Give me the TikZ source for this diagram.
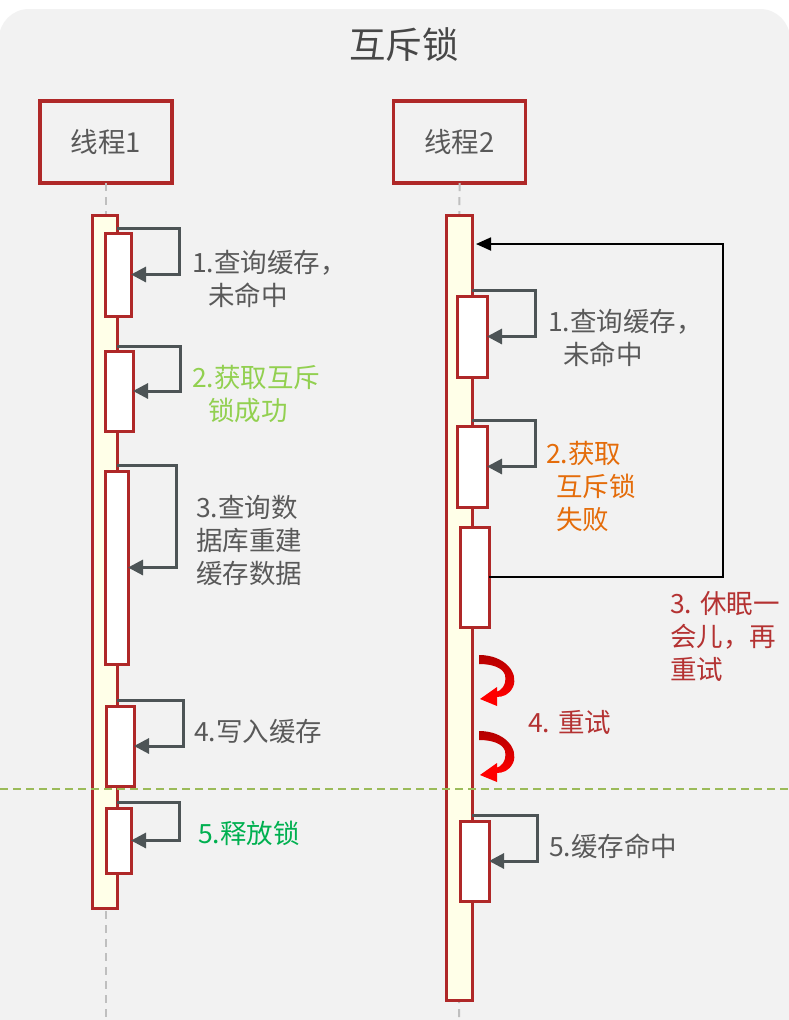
\documentclass[tikz,border=0pt]{standalone}
\usepackage{fontspec}
\setmainfont{Noto Sans CJK SC}
\usetikzlibrary{arrows.meta}
\definecolor{bgc}{RGB}{242,242,242}
\definecolor{boxred}{RGB}{175,40,40}
\definecolor{barfill}{RGB}{255,255,232}
\definecolor{msgc}{RGB}{77,84,86}
\definecolor{txtg}{RGB}{89,89,89}
\definecolor{lgreen}{RGB}{146,208,80}
\definecolor{dgreen}{RGB}{0,176,80}
\definecolor{orng}{RGB}{228,108,10}
\definecolor{dred}{RGB}{180,50,50}
\definecolor{sepg}{RGB}{155,187,89}
\begin{document}
\begin{tikzpicture}[x=1pt,y=-1pt,
  thread/.style={draw=boxred,line width=3.5pt,minimum width=132pt,minimum height=82pt,inner sep=0pt,outer sep=0pt,font=\fontsize{27.5}{30}\selectfont,text=txtg},
  lbar/.style={draw=boxred,fill=barfill,line width=3pt,inner sep=0pt,outer sep=0pt},
  act/.style={draw=boxred,fill=white,line width=3pt,inner sep=0pt,outer sep=0pt},
  life/.style={draw=black!25,line width=2pt,dash pattern=on 8pt off 6pt},
  msg/.style={draw=msgc,line width=3pt,-{Triangle[length=15pt,width=15pt]}},
  loopln/.style={draw=black,line width=1.8pt,-{Triangle[length=15pt,width=13pt]}},
  lbl/.style={anchor=west,align=left,inner sep=0pt,font=\fontsize{26.5}{33}\selectfont},
  sep/.style={draw=sepg,line width=1.5pt,dash pattern=on 8pt off 5pt}
]
\useasboundingbox (0,0) rectangle (789,1020);
\fill[white] (0,0) rectangle (789,1020);
\fill[bgc,rounded corners=30pt] (-1,9) rectangle (790,1050);

\node[font=\fontsize{36.5}{40}\selectfont,text=txtg!80!black] (title) at (404,45) {互斥锁};

\node[thread] (t1) at (106,142) {线程1};
\node[thread] (t2) at (459.5,142) {线程2};
\coordinate (e1) at (106,1020);
\coordinate (e2) at (459,1020);
\draw[life] (t1.south) -- (e1);
\draw[life] (t2.south) -- (e2);

% thread 1
\node[lbar,minimum width=25pt,minimum height=693pt] (bar1) at (104.5,561.5) {};
\node[act,minimum width=26pt,minimum height=83pt] (a1) at (118,274.5) {};
\node[act,minimum width=28pt,minimum height=80pt] (a2) at (119,391) {};
\node[act,minimum width=23pt,minimum height=193pt] (a3) at (116.5,567.5) {};
\node[act,minimum width=28pt,minimum height=80pt] (a4) at (120,746) {};
\node[act,minimum width=25pt,minimum height=65pt] (a5) at (118.5,840.5) {};

\draw[msg] ([yshift=5pt]a1.north -| bar1.east) -- ++(62,0) |- (a1.east);
\draw[msg] ([yshift=5pt]a2.north -| bar1.east) -- ++(63,0) |- (a2.east);
\draw[msg] ([yshift=6pt]a3.north -| bar1.east) -- ++(59,0) |- (a3.east);
\draw[msg] ([yshift=6pt]a4.north -| bar1.east) -- ++(66,0) |- (a4.east);
\draw[msg] ([yshift=6pt]a5.north -| bar1.east) -- ++(62,0) |- (a5.east);

\node[lbl,text=txtg] (l1) at (192,279) {1.查询缓存，\\\hspace*{16pt}未命中};
\node[lbl,text=lgreen] (l2) at (192,394) {2.获取互斥\\\hspace*{16pt}锁成功};
\node[lbl,text=txtg] (l3) at (196,540) {3.查询数\\据库重建\\缓存数据};
\node[lbl,text=txtg] (l4) at (194,731) {4.写入缓存};
\node[lbl,text=dgreen] (l5) at (198,833) {5.释放锁};

% thread 2
\node[lbar,minimum width=26pt,minimum height=785pt] (bar2) at (459,607.5) {};
\node[act,minimum width=30pt,minimum height=81pt] (b1) at (472,336.5) {};
\node[act,minimum width=30pt,minimum height=81pt] (b2) at (472,466.5) {};
\node[act,minimum width=29pt,minimum height=100pt] (b3) at (474.5,577) {};
\node[act,minimum width=29pt,minimum height=80pt] (b5) at (474.5,861) {};

\draw[msg] ([yshift=6pt]b1.north -| bar2.east) -- ++(63,0) |- (b1.east);
\draw[msg] ([yshift=6pt]b2.north -| bar2.east) -- ++(63,0) |- (b2.east);
\draw[msg] ([yshift=6pt]b5.north -| bar2.east) -- ++(65,0) |- (b5.east);

\coordinate (lpc) at (723,244);
\coordinate (lpend) at (476,244);
\draw[loopln] (b3.east) -| (lpc) -- (lpend);

\node[lbl,text=txtg] (m1) at (548,338) {1.查询缓存，\\\hspace*{15pt}未命中};
\node[lbl,text=orng] (m2) at (546,486) {2.获取\\\hspace*{10pt}互斥锁\\\hspace*{10pt}失败};
\node[lbl,text=dred] (m3) at (670,636) {3. 休眠一\\会儿，再\\重试};
\node[lbl,text=dred] (m4) at (528,722) {4. 重试};
\node[lbl,text=txtg] (m5) at (549,846) {5.缓存命中};

% retry arrows
\foreach \yy in {655,731}{
\begin{scope}[shift={(479,\yy)}]
\shade[top color=red!70!black,bottom color=red] (0,0) .. controls (26,0) and (40,18) .. (34,32) .. controls (30,40) and (24,42) .. (17,42) -- (17,37) .. controls (22,36) and (28,30) .. (26,20) .. controls (24,13) and (14,9) .. (0,9) -- cycle;
\fill[red] (18,32) -- (1,44) -- (18,51) -- cycle;
\end{scope}
}

\coordinate (sl) at (0,789);
\coordinate (sr) at (789,789);
\draw[sep] (sl) -- (sr);
\end{tikzpicture}
\end{document}
